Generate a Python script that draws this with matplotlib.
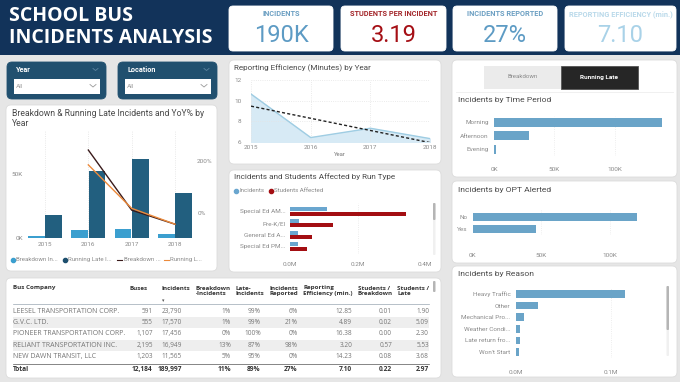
import numpy as np
import matplotlib.pyplot as plt
from matplotlib.patches import FancyBboxPatch, Rectangle

plt.rcParams['font.family'] = ['Roboto', 'DejaVu Sans']

W, H = 680, 382

# ---------------- data ----------------
kpi_labels = ['INCIDENTS', 'STUDENTS PER INCIDENT', 'INCIDENTS REPORTED', 'REPORTING EFFICIENCY (min.)']
kpi_values = ['190K', '3.19', '27%', '7.10']

years = ['2015', '2016', '2017', '2018']
breakdown = [1900, 6500, 7000, 3400]
running_late = [17900, 53000, 62400, 35200]
breakdown_yoy = [None, 242, 11, -43]
running_yoy = [None, 185, 18, -43]

eff_minutes = [10.64, 6.43, 7.33, 6.33]
eff_trend = [9.47, 5.94]

run_types = ['Special Ed AM...', 'Pre-K/EI', 'General Ed A...', 'Special Ed PM...']
run_incidents = [0.111, 0.027, 0.025, 0.025]
run_students = [0.343, 0.128, 0.064, 0.051]

periods = ['Morning', 'Afternoon', 'Evening']
period_incidents = [139000, 28600, 1500]

opt_alerted = ['No', 'Yes']
opt_incidents = [119800, 46000]

reasons = ['Heavy Traffic', 'Other', 'Mechanical Pro...', 'Weather Condi...', 'Late return fro...', "Won't Start"]
reason_incidents = [0.1155, 0.0236, 0.0088, 0.0046, 0.0039, 0.0028]

table_cols = ['Bus Company', 'Buses', 'Incidents', 'Breakdown\n-Incidents', 'Late-\nIncidents',
              'Incidents\nReported', 'Reporting\nEfficiency (min.)', 'Students /\nBreakdown', 'Students /\nLate']
table_rows = [
    ['LEESEL TRANSPORTATION CORP.', '591', '23,790', '1%', '99%', '6%', '12.85', '0.01', '1.90'],
    ['G.V.C. LTD.', '555', '17,570', '1%', '99%', '21%', '4.89', '0.02', '5.09'],
    ['PIONEER TRANSPORTATION CORP.', '1,107', '17,456', '0%', '100%', '0%', '16.38', '0.00', '2.30'],
    ['RELIANT TRANSPORTATION INC.', '2,195', '16,949', '13%', '87%', '98%', '3.20', '0.57', '5.53'],
    ['NEW DAWN TRANSIT, LLC', '1,203', '11,565', '5%', '95%', '0%', '14.23', '0.08', '3.68'],
]
table_total = ['Total', '12,184', '189,997', '11%', '89%', '27%', '7.10', '0.22', '2.97']

# ---------------- colours ----------------
NAVY = '#12335a'
BODY = '#e6e6e6'
TITLE_C = '#4a4a4a'
TICK_C = '#8a8a8a'
BAR_C = '#6aa4c8'


def rect(x, y, w, h):
    return [x / W, 1 - (y + h) / H, w / W, h / H]


fig = plt.figure(figsize=(6.8, 3.82), dpi=100)
fig.patch.set_facecolor(BODY)
bg = fig.add_axes([0, 0, 1, 1])
bg.set_xlim(0, W)
bg.set_ylim(H, 0)
bg.axis('off')


def panel(x, y, w, h, fc='white', ec='#dcdcdc', r=5, lw=0.6):
    bg.add_patch(FancyBboxPatch((x, y), w, h, boxstyle=f'round,pad=0,rounding_size={r}',
                                fc=fc, ec=ec, lw=lw, zorder=1))


# header band
bg.add_patch(Rectangle((0, 0), W, 55, fc=NAVY, ec='none', zorder=0))
bg.text(9, 16, 'SCHOOL BUS', color='white', fontsize=14, fontweight='bold',
        family='Open Sans', va='center')
bg.text(9, 38, 'INCIDENTS ANALYSIS', color='white', fontsize=14, fontweight='bold',
        family='Open Sans', va='center')

kpi_x = [229, 341, 453, 565]
kpi_w = [104, 105, 104, 111]
kpi_lab_c = ['#6b9fc2', '#a3262a', '#6b9fc2', '#b9d9ea']
kpi_val_c = ['#5d9bc4', '#a50f15', '#5d9bc4', '#a9d2e8']
for i in range(4):
    panel(kpi_x[i], 6, kpi_w[i], 45, r=4, ec='white')
    cx = kpi_x[i] + kpi_w[i] / 2
    bg.text(cx, 14.5, kpi_labels[i], color=kpi_lab_c[i], fontsize=5.3, fontweight='bold',
            ha='center', va='center', zorder=3)
    bg.text(cx, 36, kpi_values[i], color=kpi_val_c[i], fontsize=17,
            ha='center', va='center', zorder=3)

# slicers
for sx, sw, name in [(7, 99, 'Year'), (118, 99, 'Location')]:
    panel(sx, 62, sw, 37, fc='#21506f', ec='#21506f', r=5)
    bg.text(sx + 9, 70.5, name, color='white', fontsize=5.2, fontweight='bold', va='center', zorder=3)
    bg.plot([sx + sw - 13, sx + sw - 10.5, sx + sw - 8], [68.5, 70.5, 68.5], color='#5f85a0', lw=0.6, zorder=3)
    bg.add_patch(Rectangle((sx + 6.5, 78.5), sw - 13, 15, fc='white', ec='none', zorder=2))
    bg.text(sx + 9, 86, 'All', color='#a0a0a0', fontsize=4.6, va='center', zorder=3)
    bg.plot([sx + sw - 16, sx + sw - 13, sx + sw - 10], [84.5, 87, 84.5], color='#9a9a9a', lw=0.6, zorder=3)

# panels
panel(6, 105, 211, 166)
panel(229, 60, 212, 104)
panel(229, 170, 212, 102)
panel(6, 278, 435, 100)
panel(452, 60, 225, 117)
panel(452, 181, 225, 82)
panel(452, 266, 225, 111)
bg.plot([456, 673], [91.5, 91.5], color='#eeeeee', lw=0.6, zorder=2)


def style(ax):
    for s in ax.spines.values():
        s.set_visible(False)
    ax.tick_params(length=0, labelsize=4.6, labelcolor=TICK_C)
    ax.patch.set_alpha(0)


# ---------------- combo chart ----------------
bg.text(12, 113, 'Breakdown & Running Late Incidents and YoY% by', color=TITLE_C, fontsize=6.2,
        va='center', zorder=3)
bg.text(12, 124, 'Year', color=TITLE_C, fontsize=6.2, va='center', zorder=3)
ax1 = fig.add_axes(rect(27, 130, 166, 108))
xs = np.arange(len(years))
for xv in xs:
    ax1.axvline(xv, color='#e2e2e2', ls=':', lw=0.6, zorder=0)
ax1.bar(xs - 0.2, breakdown, 0.39, color='#3b9fcf', zorder=2)
ax1.bar(xs + 0.2, running_late, 0.39, color='#225f7f', zorder=2)
ax1.set_xlim(-0.415, 3.415)
ax1.set_ylim(0, 85000)
ax1.set_yticks([0, 50000])
ax1.set_yticklabels(['0K', '50K'])
ax1.set_xticks(xs)
ax1.set_xticklabels(years)
style(ax1)
ax1.tick_params(axis='x', pad=3)
ax1.tick_params(axis='y', pad=3)
ax2 = ax1.twinx()
ax2.plot(xs[1:], breakdown_yoy[1:], color='#3a1b1b', lw=1.0, zorder=3)
ax2.plot(xs[1:], running_yoy[1:], color='#ec8a3b', lw=1.0, zorder=3)
ax2.set_ylim(-96, 319)
ax2.set_yticks([0, 200])
ax2.set_yticklabels(['0%', '200%'])
style(ax2)
ax2.tick_params(axis='y', pad=3)

leg = [('o', '#3b9fcf', 'Breakdown In...', 13), ('o', '#1d4f6e', 'Running Late I...', 65),
       ('-', '#3a1b1b', 'Breakdown ...', 117), ('-', '#ec8a3b', 'Running L...', 164)]
for mk, c, t, lx in leg:
    if mk == 'o':
        bg.plot(lx, 259.5, 'o', ms=3, color=c, zorder=3)
        bg.text(lx + 3, 259.5, t, color=TICK_C, fontsize=4.4, va='center', zorder=3)
    else:
        bg.plot([lx, lx + 5], [259.5, 259.5], color=c, lw=0.8, zorder=3)
        bg.text(lx + 6.5, 259.5, t, color=TICK_C, fontsize=4.4, va='center', zorder=3)

# ---------------- reporting efficiency ----------------
bg.text(234, 68.5, 'Reporting Efficiency (Minutes) by Year', color=TITLE_C, fontsize=5.9,
        va='center', zorder=3)
ax3 = fig.add_axes(rect(251, 80, 179, 62))
ex = np.arange(len(years))
ax3.fill_between(ex, eff_minutes, 6, color='#d7eaf5', zorder=1)
ax3.plot(ex, eff_minutes, color='#9fcde3', lw=1.0, zorder=2)
ax3.plot([ex[0], ex[-1]], eff_trend, color='#222222', lw=1.0, ls=(0, (2.2, 1.6)), zorder=3)
ax3.set_xlim(0, 3)
ax3.set_ylim(6, 12)
ax3.set_yticks([6, 8, 10, 12])
ax3.set_xticks(ex)
ax3.set_xticklabels(years)
ax3.grid(True, color='#e4e4e4', ls=':', lw=0.6)
style(ax3)
ax3.tick_params(axis='x', pad=2.5)
ax3.tick_params(axis='y', pad=7)
bg.text(340, 155, 'Year', color='#777777', fontsize=4.2, ha='center', va='center', zorder=3)

# ---------------- run type ----------------
bg.text(234, 177, 'Incidents and Students Affected by Run Type', color=TITLE_C, fontsize=5.9,
        va='center', zorder=3)
bg.plot(236, 191, 'o', ms=3, color='#6aa6cf', zorder=3)
bg.text(239, 191, 'Incidents', color=TICK_C, fontsize=4.4, va='center', zorder=3)
bg.plot(271, 191, 'o', ms=3, color='#a30e12', zorder=3)
bg.text(274, 191, 'Students Affected', color=TICK_C, fontsize=4.4, va='center', zorder=3)
ax4 = fig.add_axes(rect(290, 203, 135, 51))
ry = np.arange(len(run_types))
ax4.barh(ry - 0.19, run_incidents, 0.34, color='#6aa6cf', zorder=2)
ax4.barh(ry + 0.19, run_students, 0.34, color='#a30e12', zorder=2)
ax4.set_xlim(0, 0.4)
ax4.set_ylim(3.65, -0.73)
ax4.set_yticks(ry)
ax4.set_yticklabels(run_types)
ax4.set_xticks([0, 0.2, 0.4])
ax4.set_xticklabels(['0.0M', '0.2M', '0.4M'])
for v in [0.2, 0.4]:
    ax4.axvline(v, color='#e6e6e6', ls=':', lw=0.6, zorder=0)
style(ax4)
ax4.tick_params(axis='x', pad=6)
ax4.tick_params(axis='y', pad=3)
bg.add_patch(FancyBboxPatch((433, 203), 2.5, 52, boxstyle='round,pad=0,rounding_size=1',
                            fc='#f0f0f0', ec='none', zorder=2))
bg.add_patch(FancyBboxPatch((433, 203), 2.5, 17, boxstyle='round,pad=0,rounding_size=1',
                            fc='#b5b5b5', ec='none', zorder=3))

# ---------------- right column ----------------
bg.add_patch(Rectangle((484, 65.5), 77, 23, fc='#ebebeb', ec='none', zorder=2))
bg.add_patch(Rectangle((561, 65.5), 77, 23, fc='#262626', ec='#555555', lw=0.6, zorder=2))
bg.text(522.5, 77, 'Breakdown', color='#8a8a8a', fontsize=4.4, ha='center', va='center', zorder=3)
bg.text(599.5, 77, 'Running Late', color='white', fontsize=4.6, fontweight='bold',
        ha='center', va='center', zorder=3)

bg.text(458, 100, 'Incidents by Time Period', color=TITLE_C, fontsize=6.1, va='center', zorder=3)
ax5 = fig.add_axes(rect(494.3, 115.5, 175.7, 40.5))
py = np.arange(len(periods))
ax5.barh(py, period_incidents, 0.69, color=BAR_C, zorder=2)
ax5.set_xlim(0, 146000)
ax5.set_ylim(2.5, -0.5)
ax5.set_yticks(py)
ax5.set_yticklabels(periods)
ax5.set_xticks([0, 50000, 100000])
ax5.set_xticklabels(['0K', '50K', '100K'])
for v in [50000, 100000]:
    ax5.axvline(v, color='#e8e8e8', ls=':', lw=0.6, zorder=0)
style(ax5)
ax5.tick_params(axis='x', pad=8)
ax5.tick_params(axis='y', pad=4)

bg.text(458, 190, 'Incidents by OPT Alerted', color=TITLE_C, fontsize=6.1, va='center', zorder=3)
ax6 = fig.add_axes(rect(472.7, 210.5, 190, 24.6))
oy = np.arange(len(opt_alerted))
ax6.barh(oy, opt_incidents, 0.66, color=BAR_C, zorder=2)
ax6.set_xlim(0, 138300)
ax6.set_ylim(1.5, -0.5)
ax6.set_yticks(oy)
ax6.set_yticklabels(opt_alerted)
ax6.set_xticks([0, 50000, 100000])
ax6.set_xticklabels(['0K', '50K', '100K'])
for v in [50000, 100000]:
    ax6.axvline(v, color='#e8e8e8', ls=':', lw=0.6, zorder=0)
style(ax6)
ax6.tick_params(axis='x', pad=13)
ax6.tick_params(axis='y', pad=4)

bg.text(458, 274, 'Incidents by Reason', color=TITLE_C, fontsize=6.1, va='center', zorder=3)
ax7 = fig.add_axes(rect(516, 288.2, 146, 69.6))
qy = np.arange(len(reasons))
ax7.barh(qy, reason_incidents, 0.66, color=BAR_C, zorder=2)
ax7.set_xlim(0, 0.1542)
ax7.set_ylim(5.5, -0.5)
ax7.set_yticks(qy)
ax7.set_yticklabels(reasons)
ax7.set_xticks([0, 0.1])
ax7.set_xticklabels(['0.0M', '0.1M'])
ax7.axvline(0.1, color='#e8e8e8', ls=':', lw=0.6, zorder=0)
style(ax7)
ax7.tick_params(axis='x', pad=9)
ax7.tick_params(axis='y', pad=4)
bg.add_patch(FancyBboxPatch((666.5, 286), 2.5, 70, boxstyle='round,pad=0,rounding_size=1',
                            fc='#f0f0f0', ec='none', zorder=2))
bg.add_patch(FancyBboxPatch((666.5, 286), 2.5, 44, boxstyle='round,pad=0,rounding_size=1',
                            fc='#b5b5b5', ec='none', zorder=3))

# ---------------- table ----------------
col_left = [13, 130, 161, 196, 236, 269, 303, 358, 397]
col_right = [None, 152.7, 181.7, 231, 260.7, 297.7, 352.3, 392, 429]
TF = 'Open Sans'
for j, c in enumerate(table_cols):
    bg.text(col_left[j], 285.5, c, color='#333333', fontsize=4.5, fontweight='bold', family=TF,
            va='top', ha='left', linespacing=1.15, zorder=3)
bg.text(163.3, 300.5, '\u25be', color='#555555', fontsize=3.5, ha='center', va='center', zorder=3)
bg.plot([13, 429], [304, 304], color='#9aa6b2', lw=0.5, zorder=3)
row_y = [311.5, 322.7, 333.9, 345.1, 356.3]
for i, row in enumerate(table_rows):
    y = row_y[i]
    if i % 2 == 1:
        bg.add_patch(Rectangle((13, y - 5.6), 416, 11.2, fc='#eeeeee', ec='none', zorder=2))
    for j, v in enumerate(row):
        if j == 0:
            bg.text(col_left[0], y, v, color='#777777', fontsize=5.0, family=TF, va='center', zorder=3)
        else:
            bg.text(col_right[j], y, v, color='#777777', fontsize=4.7, family=TF,
                    va='center', ha='right', zorder=3)
bg.plot([13, 429], [364, 364], color='#555555', lw=0.5, zorder=3)
for j, v in enumerate(table_total):
    if j == 0:
        bg.text(col_left[0], 369.5, v, color='#333333', fontsize=4.8, fontweight='bold', family=TF,
                va='center', zorder=3)
    else:
        bg.text(col_right[j], 369.5, v, color='#333333', fontsize=4.8, fontweight='bold', family=TF,
                va='center', ha='right', zorder=3)
bg.add_patch(FancyBboxPatch((433, 281), 2.5, 11, boxstyle='round,pad=0,rounding_size=1',
                            fc='#b5b5b5', ec='none', zorder=3))

fig.savefig('out.png', dpi=100, facecolor=fig.get_facecolor())
